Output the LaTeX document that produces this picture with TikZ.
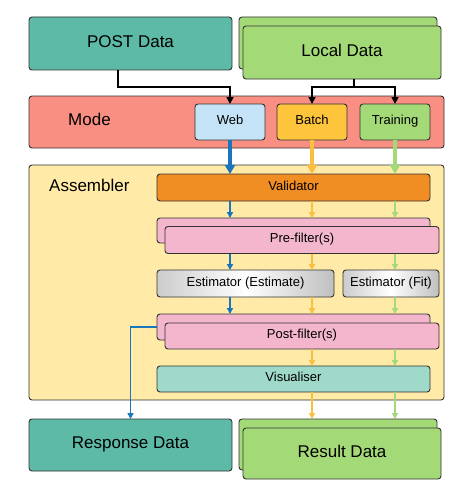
\documentclass[tikz,border=0pt]{standalone}
\usepackage{fontspec}
\setmainfont{Liberation Sans}
\usetikzlibrary{arrows.meta}
\definecolor{cteal}{HTML}{5CBAA6}
\definecolor{cgreen}{HTML}{A4D977}
\definecolor{csalmon}{HTML}{F98F83}
\definecolor{clblue}{HTML}{C4E3F6}
\definecolor{cbatch}{HTML}{FDC43C}
\definecolor{casm}{HTML}{FFEAA8}
\definecolor{cvalid}{HTML}{F08E24}
\definecolor{cpink}{HTML}{F4B6CC}
\definecolor{cvis}{HTML}{9FD9CA}
\definecolor{ablue}{HTML}{1B75BC}
\definecolor{aorange}{HTML}{FBBF40}
\definecolor{agreen}{HTML}{A4D977}
\definecolor{cborder}{HTML}{333333}
\tikzset{
  box/.style={draw=cborder, line width=0.9pt, rounded corners=3pt, inner sep=0pt, outer sep=0pt},
  bigtxt/.style={font=\fontsize{17}{20}\selectfont, text height=12.2pt, text depth=5pt},
  smalltxt/.style={font=\fontsize{13}{15}\selectfont, text height=9.3pt, text depth=3.5pt},
  est/.style={box, smalltxt, left color=gray!40, right color=gray!50, middle color=white},
  blk/.style={draw=black, line width=1.6pt, -{Triangle[width=7pt,length=7pt]}},
  thick arr/.style={line width=4pt, -{Triangle[width=10pt,length=9pt]}},
  thin arr/.style={line width=1.6pt, -{Triangle[width=6pt,length=6pt]}},
}
\begin{document}
\begin{tikzpicture}[x=1pt,y=-1pt]
\useasboundingbox[fill=white] (0,0) rectangle (474,495);
% top sources
\node[box, fill=cteal, bigtxt, minimum width=203pt, minimum height=53pt] (post) at (130.5,43.5) {POST Data};
\node[box, fill=cgreen, minimum width=198pt, minimum height=52pt] (localB) at (338,43) {};
\node[box, fill=cgreen, bigtxt, minimum width=198pt, minimum height=53pt] (localF) at (342,52.5) {Local Data};
% mode
\node[box, fill=csalmon, minimum width=415pt, minimum height=52pt] (mode) at (236.5,122) {};
\node[bigtxt, anchor=west, inner sep=0pt] (modelbl) at (68,121.5) {Mode};
\node[box, fill=clblue, smalltxt, minimum width=70pt, minimum height=36pt] (web) at (230,122) {Web};
\node[box, fill=cbatch, smalltxt, minimum width=70pt, minimum height=36pt] (batch) at (312,122) {Batch};
\node[box, fill=cgreen, smalltxt, minimum width=70pt, minimum height=36pt] (training) at (395,122) {Training};
% assembler
\node[box, fill=casm, minimum width=415pt, minimum height=235pt] (asm) at (236.5,282.5) {};
\node[bigtxt, anchor=west, inner sep=0pt] (asmlbl) at (49,187.5) {Assembler};
\node[box, fill=cvalid, smalltxt, minimum width=273pt, minimum height=27pt] (validator) at (293.5,187.5) {Validator};
\node[box, fill=cpink, minimum width=273pt, minimum height=25pt] (prefB) at (293.5,230.5) {};
\node[box, fill=cpink, smalltxt, minimum width=274pt, minimum height=27pt] (prefF) at (302,240) {Pre-filter(s)};
\node[est, minimum width=177pt, minimum height=27pt] (estE) at (245.5,283.5) {Estimator (Estimate)};
\node[est, minimum width=96pt, minimum height=27pt] (estF) at (391,283.5) {Estimator (Fit)};
\node[box, fill=cpink, minimum width=273pt, minimum height=26pt] (postB) at (293.5,327) {};
\node[box, fill=cpink, smalltxt, minimum width=274pt, minimum height=26pt] (postF) at (302,336) {Post-filter(s)};
\node[box, fill=cvis, smalltxt, minimum width=273pt, minimum height=26pt] (vis) at (293.5,379) {Visualiser};
% outputs
\node[box, fill=cteal, bigtxt, minimum width=203pt, minimum height=52pt] (resp) at (130.5,445) {Response Data};
\node[box, fill=cgreen, minimum width=198pt, minimum height=51pt] (resB) at (338,444.5) {};
\node[box, fill=cgreen, bigtxt, minimum width=198pt, minimum height=51pt] (resF) at (342,453.5) {Result Data};
% black input arrows
\coordinate (pj) at (118,87);
\coordinate (lj) at (354,87);
\draw[blk] (post.south -| pj) -- (pj) -| (web.north);
\draw[line width=1.6pt] (localF.south -| lj) -- (lj);
\draw[blk] (lj) -| (batch.north);
\draw[blk] (lj) -| (training.north);
% thick mode arrows
\draw[thick arr, ablue] (web.south) -- (web.south |- validator.north);
\draw[thick arr, aorange] (batch.south) -- (batch.south |- validator.north);
\draw[thick arr, agreen] (training.south) -- (training.south |- validator.north);
% thin arrows
\draw[thin arr, ablue] (validator.south -| web) -- (prefB.north -| web);
\draw[thin arr, aorange] (validator.south -| batch) -- (prefB.north -| batch);
\draw[thin arr, agreen] (validator.south -| training) -- (prefB.north -| training);
\draw[thin arr, ablue] (prefF.south -| web) -- (estE.north -| web);
\draw[thin arr, aorange] (prefF.south -| batch) -- (estE.north -| batch);
\draw[thin arr, agreen] (prefF.south -| training) -- (estF.north -| training);
\draw[thin arr, ablue] (estE.south -| web) -- (postB.north -| web);
\draw[thin arr, aorange] (estE.south -| batch) -- (postB.north -| batch);
\draw[thin arr, agreen] (estF.south -| training) -- (postB.north -| training);
\draw[thin arr, aorange] (postF.south -| batch) -- (vis.north -| batch);
\draw[thin arr, agreen] (postF.south -| training) -- (vis.north -| training);
\draw[thin arr, aorange] (vis.south -| batch) -- (resB.north -| batch);
\draw[thin arr, agreen] (vis.south -| training) -- (resB.north -| training);
\draw[thin arr, ablue] (postB.west) -| (resp.north);
\end{tikzpicture}
\end{document}
